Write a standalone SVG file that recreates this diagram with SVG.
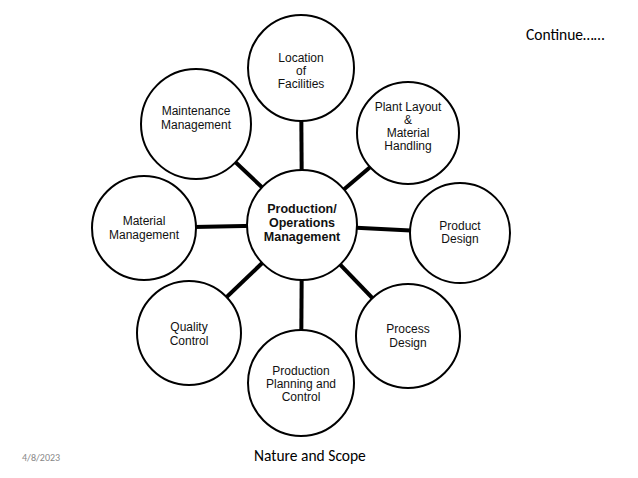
<svg xmlns="http://www.w3.org/2000/svg" width="638" height="478" viewBox="0 0 638 478">
<style>
.n{fill:#fff;stroke:#000;stroke-width:2}
.t{font-family:"Liberation Sans",Arial,sans-serif;font-size:12px;text-anchor:middle;fill:#111}
.b{font-weight:bold;font-size:12.5px}
#connectors line{stroke:#000;stroke-width:4}
.f{font-family:"Carlito","Liberation Sans",sans-serif;fill:#000}
</style>
<rect width="638" height="478" fill="#fff"/>
<g id="connectors">
<line x1="302" y1="225" x2="301" y2="68"/>
<line x1="302" y1="225" x2="408" y2="135"/>
<line x1="302" y1="225" x2="460" y2="233"/>
<line x1="302" y1="225" x2="408" y2="335"/>
<line x1="302" y1="225" x2="301" y2="383"/>
<line x1="302" y1="225" x2="189" y2="333"/>
<line x1="302" y1="225" x2="144" y2="228"/>
<line x1="302" y1="225" x2="196" y2="125"/>
</g>
<g id="center"><circle class="n" cx="302" cy="225" r="55"/>
<text class="t b" x="302" y="213">Production/</text><text class="t b" x="302" y="227">Operations</text><text class="t b" x="302" y="241">Management</text></g>
<g id="location"><circle class="n" cx="301" cy="68" r="53"/>
<text class="t" x="301" y="62">Location</text><text class="t" x="301" y="75">of</text><text class="t" x="301" y="88">Facilities</text></g>
<g id="plant"><circle class="n" cx="408" cy="133" r="51"/>
<text class="t" x="408" y="111">Plant Layout</text><text class="t" x="408" y="124">&amp;</text><text class="t" x="408" y="137">Material</text><text class="t" x="408" y="150">Handling</text></g>
<g id="product"><circle class="n" cx="460" cy="233" r="50"/>
<text class="t" x="460" y="230">Product</text><text class="t" x="460" y="243">Design</text></g>
<g id="process"><circle class="n" cx="408" cy="336" r="52"/>
<text class="t" x="408" y="333">Process</text><text class="t" x="408" y="347">Design</text></g>
<g id="ppc"><circle class="n" cx="301" cy="383" r="53"/>
<text class="t" x="301" y="375">Production</text><text class="t" x="301" y="388">Planning and</text><text class="t" x="301" y="401">Control</text></g>
<g id="quality"><circle class="n" cx="189" cy="333" r="52"/>
<text class="t" x="189" y="331">Quality</text><text class="t" x="189" y="345">Control</text></g>
<g id="material"><circle class="n" cx="144" cy="228" r="52"/>
<text class="t" x="144" y="225">Material</text><text class="t" x="144" y="239">Management</text></g>
<g id="maintenance"><circle class="n" cx="196" cy="124" r="55"/>
<text class="t" x="196" y="115">Maintenance</text><text class="t" x="196" y="129">Management</text></g>
<text class="f" x="526" y="40" font-size="15.5">Continue……</text>
<text class="f" x="22" y="461" font-size="10" style="fill:#888">4/8/2023</text>
<text class="f" x="254" y="461" font-size="15.5">Nature and Scope</text>
</svg>
